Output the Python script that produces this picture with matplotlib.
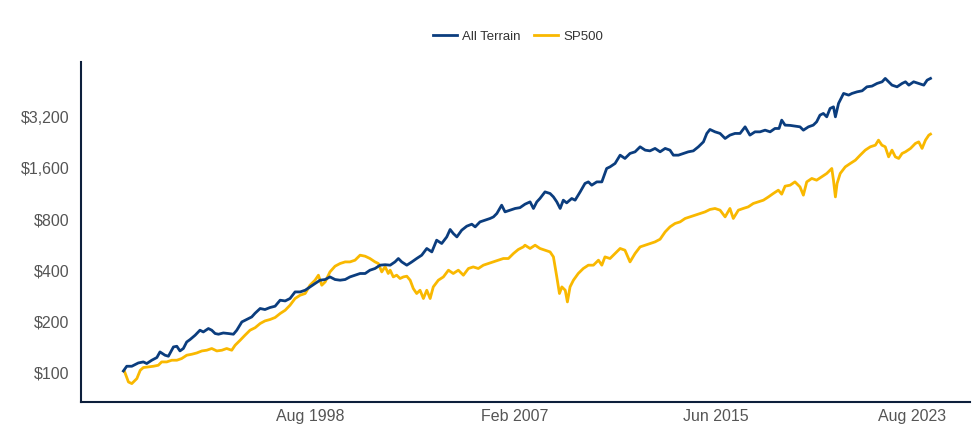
import matplotlib
matplotlib.use("Agg")
import matplotlib.pyplot as plt
from matplotlib.ticker import FixedLocator, FixedFormatter, NullLocator

plt.rcParams['font.family'] = ['Liberation Sans', 'DejaVu Sans']

# growth of $100 (x in decimal years)
at_years = [1990.83, 1990.97, 1991.18, 1991.45, 1991.66, 1991.80, 1992.01, 1992.22, 1992.35, 1992.56,
            1992.70, 1992.91, 1993.05, 1993.18, 1993.32, 1993.46, 1993.60, 1993.81, 1994.01, 1994.15,
            1994.36, 1994.50, 1994.64, 1994.78, 1994.98, 1995.19, 1995.40, 1995.54, 1995.75, 1995.95,
            1996.16, 1996.30, 1996.51, 1996.71, 1996.92, 1997.13, 1997.34, 1997.55, 1997.75, 1997.96,
            1998.17, 1998.38, 1998.58, 1998.79, 1999.00, 1999.21, 1999.41, 1999.62, 1999.83, 2000.04,
            2000.24, 2000.45, 2000.66, 2000.87, 2001.07, 2001.28, 2001.49, 2001.70, 2001.91, 2002.11,
            2002.25, 2002.39, 2002.60, 2002.81, 2003.01, 2003.22, 2003.43, 2003.64, 2003.84, 2004.05,
            2004.26, 2004.40, 2004.53, 2004.68, 2004.88, 2005.09, 2005.30, 2005.44, 2005.64, 2005.85,
            2006.06, 2006.20, 2006.34, 2006.54, 2006.68, 2006.89, 2007.10, 2007.30, 2007.51, 2007.72,
            2007.86, 2008.00, 2008.13, 2008.34, 2008.55, 2008.69, 2008.83, 2008.97, 2009.10, 2009.24,
            2009.45, 2009.59, 2009.80, 2010.00, 2010.14, 2010.28, 2010.49, 2010.70, 2010.90, 2011.04,
            2011.25, 2011.46, 2011.66, 2011.87, 2012.08, 2012.29, 2012.50, 2012.70, 2012.91, 2013.12,
            2013.33, 2013.53, 2013.67, 2013.88, 2014.09, 2014.29, 2014.50, 2014.71, 2014.92, 2015.06,
            2015.19, 2015.40, 2015.61, 2015.82, 2016.02, 2016.23, 2016.44, 2016.65, 2016.85, 2017.06,
            2017.27, 2017.48, 2017.69, 2017.89, 2018.06, 2018.17, 2018.31, 2018.52, 2018.72, 2018.93,
            2019.07, 2019.28, 2019.48, 2019.62, 2019.76, 2019.90, 2020.04, 2020.18, 2020.32, 2020.40,
            2020.53, 2020.74, 2020.95, 2021.09, 2021.30, 2021.51, 2021.71, 2021.92, 2022.13, 2022.34,
            2022.47, 2022.61, 2022.75, 2022.96, 2023.17, 2023.31, 2023.45, 2023.65, 2023.86, 2024.07,
            2024.21, 2024.35]
at_values = [102.7, 109.5, 109.5, 114.5, 116.1, 113.6, 118.8, 123.2, 132.9, 127.1,
             125.4, 142.2, 143.5, 134.7, 139.2, 152.1, 157.2, 166.6, 178.3, 174.2,
             182.4, 178.3, 170.5, 168.9, 171.8, 170.5, 168.9, 178.3, 199.5, 206.1,
             213.4, 224.4, 239.2, 235.9, 242.4, 246.7, 267.6, 265.0, 273.8, 299.4,
             299.4, 306.3, 320.4, 335.4, 350.8, 354.1, 366.8, 354.1, 350.8, 354.1,
             366.8, 375.4, 384.1, 384.1, 401.7, 411, 429.9, 432.6, 429.9, 449.4,
             470.5, 449.4, 429.9, 449.4, 470.5, 492.1, 538.9, 514.5, 602.8, 576.4,
             630.3, 696.8, 660.2, 630.3, 690.2, 728.6, 748.6, 721.9, 772.3, 790.2,
             808.9, 826.4, 865.2, 968, 884.5, 904.9, 926, 936.2, 981.5, 1012.6,
             926, 1012.6, 1060, 1159, 1134, 1083, 1012.6, 926, 1036, 999,
             1060, 1036, 1159, 1299, 1327, 1269, 1327, 1327, 1591, 1626,
             1703, 1905, 1822, 1950, 1993, 2133, 2039, 2019, 2087, 1993,
             2087, 2039, 1905, 1905, 1950, 1993, 2019, 2133, 2281, 2556,
             2697, 2612, 2556, 2388, 2498, 2556, 2556, 2795, 2498, 2612,
             2612, 2672, 2612, 2734, 2734, 3060, 2860, 2850, 2821, 2795,
             2672, 2795, 2860, 2990, 3274, 3350, 3200, 3585, 3663, 3200,
             3836, 4392, 4293, 4392, 4488, 4551, 4803, 4850, 5028, 5141,
             5382, 5141, 4914, 4803, 5028, 5141, 4914, 5141, 5028, 4914,
             5258, 5382]

sp_years = [1990.87, 1991.04, 1991.18, 1991.32, 1991.39, 1991.53, 1991.66, 1991.87, 1992.08, 1992.28,
            1992.42, 1992.63, 1992.84, 1993.05, 1993.25, 1993.46, 1993.67, 1993.88, 1994.09, 1994.29,
            1994.50, 1994.71, 1994.92, 1995.12, 1995.33, 1995.47, 1995.68, 1995.88, 1996.09, 1996.30,
            1996.51, 1996.71, 1996.92, 1997.13, 1997.34, 1997.55, 1997.75, 1997.96, 1998.17, 1998.38,
            1998.58, 1998.79, 1998.93, 1999.07, 1999.21, 1999.41, 1999.62, 1999.83, 2000.04, 2000.24,
            2000.45, 2000.66, 2000.87, 2001.07, 2001.28, 2001.42, 2001.56, 2001.70, 2001.83, 2001.91,
            2002.04, 2002.18, 2002.32, 2002.46, 2002.60, 2002.74, 2002.87, 2003.01, 2003.15, 2003.29,
            2003.43, 2003.57, 2003.70, 2003.91, 2004.12, 2004.33, 2004.53, 2004.74, 2004.95, 2005.16,
            2005.36, 2005.57, 2005.78, 2005.99, 2006.20, 2006.40, 2006.61, 2006.82, 2007.03, 2007.23,
            2007.44, 2007.51, 2007.72, 2007.93, 2008.13, 2008.34, 2008.55, 2008.69, 2008.76, 2008.83,
            2008.94, 2009.04, 2009.18, 2009.27, 2009.38, 2009.52, 2009.72, 2009.93, 2010.14, 2010.35,
            2010.56, 2010.70, 2010.83, 2011.04, 2011.25, 2011.46, 2011.66, 2011.87, 2012.08, 2012.29,
            2012.50, 2012.70, 2012.91, 2013.12, 2013.33, 2013.53, 2013.74, 2013.95, 2014.16, 2014.36,
            2014.57, 2014.78, 2014.99, 2015.19, 2015.40, 2015.61, 2015.82, 2016.02, 2016.16, 2016.37,
            2016.57, 2016.78, 2016.99, 2017.20, 2017.41, 2017.62, 2017.82, 2018.03, 2018.17, 2018.31,
            2018.52, 2018.72, 2018.93, 2019.07, 2019.21, 2019.42, 2019.62, 2019.83, 2020.04, 2020.18,
            2020.25, 2020.32, 2020.40, 2020.47, 2020.60, 2020.81, 2021.02, 2021.23, 2021.43, 2021.64,
            2021.85, 2022.06, 2022.19, 2022.33, 2022.47, 2022.61, 2022.75, 2022.89, 2023.03, 2023.17,
            2023.31, 2023.52, 2023.72, 2023.86, 2024.00, 2024.14, 2024.28, 2024.35]
sp_values = [102.7, 88.5, 86.6, 90.6, 92.7, 103.7, 107.6, 108.5, 109.5, 111,
             116.1, 116.1, 118.8, 118.8, 121.5, 127.1, 128.8, 131.1, 134.7, 136,
             139.2, 134.7, 136, 139.2, 136, 145.5, 155.7, 166.6, 178.3, 184.4,
             195.2, 202.2, 206.1, 211.7, 223.5, 233.7, 250, 273.8, 286.3, 293,
             327.8, 350.8, 375.4, 327.8, 342.8, 392.5, 424, 439.7, 449.4, 449.4,
             459.9, 492.1, 485.4, 470.5, 449.4, 439.7, 392.5, 421.2, 384.1, 401.7,
             366.8, 375.4, 359, 366.8, 370.3, 350.8, 313.5, 293, 306.3, 273.8,
             306.3, 273.8, 320.4, 350.8, 366.8, 401.7, 384.1, 401.7, 375.4, 411,
             419.9, 411, 429.9, 439.7, 449.4, 459.9, 470.5, 470.5, 503.5, 531.5,
             550.6, 563.4, 538.9, 563.4, 538.9, 526.4, 514.5, 480.9, 419.9, 366.8,
             293, 320.4, 306.3, 261.5, 320.4, 350.8, 384.1, 411, 429.9, 429.9,
             459.9, 429.9, 480.9, 470.5, 503.5, 538.9, 526.4, 449.4, 503.5, 550.6,
             563.4, 576.4, 589.2, 611, 674.6, 721.9, 755.8, 772.3, 808.9, 826.4,
             845.7, 865.2, 884.5, 913.6, 926, 904.9, 826.4, 926, 808.9, 904.9,
             926, 946.3, 990.8, 1012.6, 1036, 1083, 1134, 1186, 1124, 1252,
             1269, 1327, 1240, 1109, 1327, 1390, 1358, 1420, 1487, 1555,
             1591, 1358, 1083, 1299, 1487, 1626, 1703, 1780, 1905, 2039,
             2133, 2181, 2334, 2181, 2133, 1862, 2039, 1862, 1822, 1950,
             1993, 2087, 2231, 2281, 2087, 2334, 2498, 2532]

x_tick_pos = [1998.58, 2007.08, 2015.42, 2023.58]
x_tick_labels = ["Aug 1998", "Feb 2007", "Jun 2015", "Aug 2023"]
y_ticks = [100, 200, 400, 800, 1600, 3200]

blue = "#0b3d7e"
gold = "#f9b800"
spine_col = "#0d1f3c"

fig = plt.figure(figsize=(9.8, 4.36), dpi=100)
ax = fig.add_axes([81/980, 1-402/436, (970-81)/980, (402-62)/436])

ax.plot(at_years, at_values, color=blue, lw=2.0, label="All Terrain", zorder=3)
ax.plot(sp_years, sp_values, color=gold, lw=2.0, label="SP500", zorder=2)

ax.set_yscale("log", base=2)
ax.set_ylim(67.5, 6720)
ax.set_xlim(1989.07, 2025.99)

ax.yaxis.set_major_locator(FixedLocator(y_ticks))
ax.yaxis.set_major_formatter(FixedFormatter(["${:,}".format(v) for v in y_ticks]))
ax.yaxis.set_minor_locator(NullLocator())
ax.xaxis.set_major_locator(FixedLocator(x_tick_pos))
ax.xaxis.set_major_formatter(FixedFormatter(x_tick_labels))
ax.xaxis.set_minor_locator(NullLocator())

ax.tick_params(axis="both", length=0, labelsize=11.5, colors="#555555")
ax.tick_params(axis="y", pad=8.5)
ax.tick_params(axis="x", pad=5)

for s in ["top", "right"]:
    ax.spines[s].set_visible(False)
for s in ["left", "bottom"]:
    ax.spines[s].set_color(spine_col)
    ax.spines[s].set_linewidth(1.5)

fig.legend(loc="center", bbox_to_anchor=(518/980, 1-37/436), ncol=2, frameon=False,
           fontsize=9.5, handlelength=1.8, handletextpad=0.4, columnspacing=1.0,
           labelcolor="#333333")

fig.savefig("out.png", dpi=100)
